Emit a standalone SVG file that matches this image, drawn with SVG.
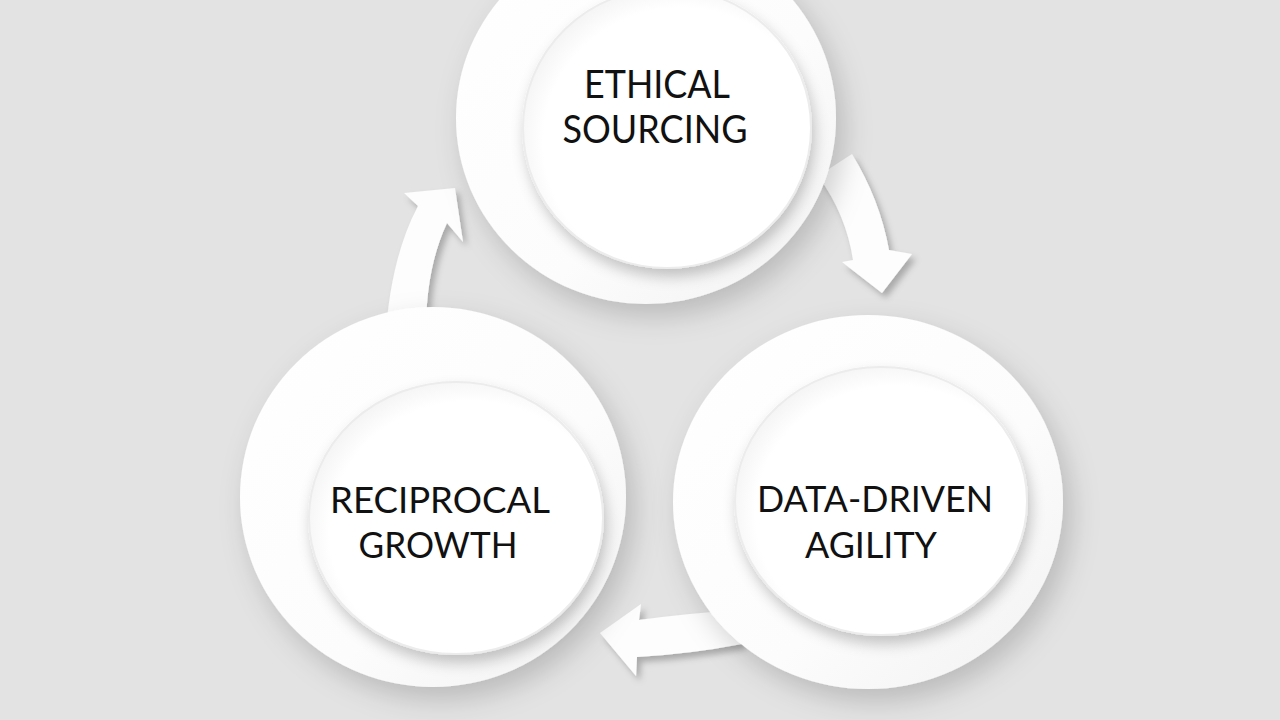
<svg xmlns="http://www.w3.org/2000/svg" width="1280" height="720" viewBox="0 0 1280 720">
  <defs>
    <filter id="ringShadow" x="-30%" y="-30%" width="160%" height="160%">
      <feDropShadow dx="8" dy="12" stdDeviation="14" flood-color="#000" flood-opacity="0.18"/>
    </filter>
    <filter id="diskShadow" x="-30%" y="-30%" width="160%" height="160%">
      <feDropShadow dx="3" dy="8" stdDeviation="7" flood-color="#000" flood-opacity="0.22"/>
    </filter>
    <filter id="arrowShadow" x="-30%" y="-30%" width="160%" height="160%">
      <feDropShadow dx="4" dy="5" stdDeviation="3" flood-color="#000" flood-opacity="0.25"/>
    </filter>
    <linearGradient id="ringFill" x1="0" y1="0" x2="1" y2="1">
      <stop offset="0" stop-color="#ffffff"/>
      <stop offset="0.6" stop-color="#fcfcfc"/>
      <stop offset="1" stop-color="#f1f1f1"/>
    </linearGradient>
    <radialGradient id="diskFill" cx="0.55" cy="0.55" r="0.6">
      <stop offset="0" stop-color="#ffffff"/>
      <stop offset="0.8" stop-color="#ffffff"/>
      <stop offset="1" stop-color="#f1f1f1"/>
    </radialGradient>
  </defs>
  <style>
    .ring { fill: url(#ringFill); filter: url(#ringShadow); }
    .disk { fill: url(#diskFill); stroke: #ececec; stroke-width: 2; filter: url(#diskShadow); }
    .arrow { fill: #fdfdfd; filter: url(#arrowShadow); }
    .label { font-family: Lato, "Liberation Sans", sans-serif; font-weight: 400; fill: #111111; text-anchor: middle; }
  </style>
  <rect width="1280" height="720" fill="#e3e3e3"/>

  <g id="connectors">
    <path class="arrow" d="M 386 330 Q 392 255 418 206 L 404 193 L 455 188 L 463 242 L 447 223 Q 426 268 426 330 Z"/>
    <path class="arrow" d="M 818 176 L 852 154 Q 880 200 889 250 L 912 254 L 882 293 L 842 262 L 853 260 Q 846 214 818 176 Z"/>
    <path class="arrow" d="M 740 610 Q 690 613 639 620 L 641 604 L 600 633 L 636 676 L 637 657 Q 690 654 742 644 Z"/>
  </g>

  <g id="node-ethical-sourcing">
    <ellipse class="ring" cx="646" cy="118" rx="190" ry="186"/>
    <ellipse class="disk" cx="667" cy="128" rx="144" ry="140"/>
    <text class="label" x="657" y="98" font-size="38" textLength="146" lengthAdjust="spacingAndGlyphs">ETHICAL</text>
    <text class="label" x="655" y="143" font-size="38" textLength="185" lengthAdjust="spacingAndGlyphs">SOURCING</text>
  </g>

  <g id="node-reciprocal-growth">
    <ellipse class="ring" cx="433" cy="497" rx="193" ry="190"/>
    <ellipse class="disk" cx="456" cy="518" rx="147" ry="136"/>
    <text class="label" x="440" y="513" font-size="37" textLength="220" lengthAdjust="spacingAndGlyphs">RECIPROCAL</text>
    <text class="label" x="438" y="558" font-size="37" textLength="159" lengthAdjust="spacingAndGlyphs">GROWTH</text>
  </g>

  <g id="node-data-driven-agility">
    <ellipse class="ring" cx="868" cy="502" rx="195" ry="187"/>
    <ellipse class="disk" cx="881" cy="501" rx="146" ry="134"/>
    <text class="label" x="875" y="512" font-size="37" textLength="236" lengthAdjust="spacingAndGlyphs">DATA-DRIVEN</text>
    <text class="label" x="871" y="558" font-size="37" textLength="132" lengthAdjust="spacingAndGlyphs">AGILITY</text>
  </g>
</svg>
